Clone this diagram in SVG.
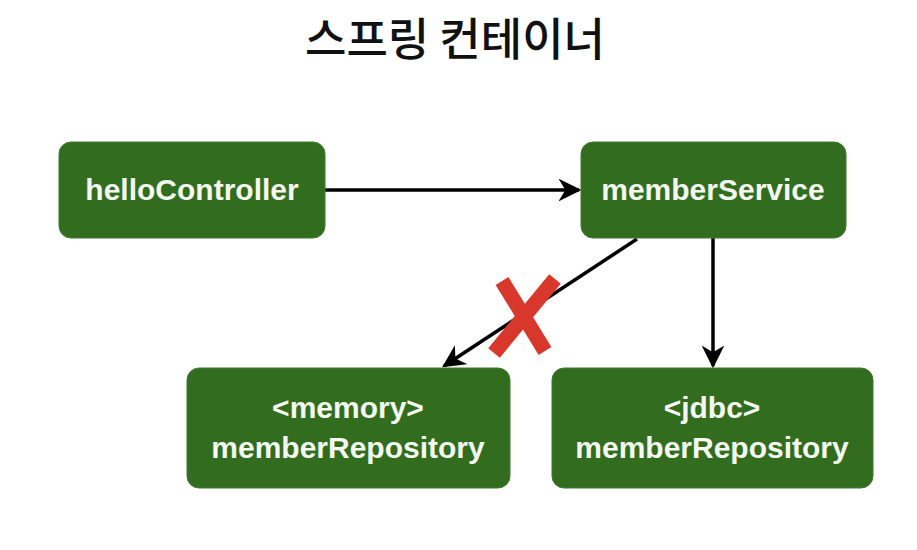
<svg xmlns="http://www.w3.org/2000/svg" width="917" height="550" viewBox="0 0 917 550">
<style>
.box{fill:#326c1f;stroke:#3f7d2a;stroke-width:1}
.lbl{font-family:"Liberation Sans",Arial,sans-serif;font-weight:bold;font-size:30px;fill:#f4f8f0;text-anchor:middle}
.title{font-family:"Noto Sans CJK KR","Noto Sans",sans-serif;font-size:45px;font-weight:500;fill:#111;text-anchor:middle}
.conn{stroke:#000;stroke-width:3.5;fill:none;marker-end:url(#ah)}
</style>
<defs>
<marker id="ah" viewBox="0 0 10 10" refX="9" refY="5" markerWidth="6.5" markerHeight="6.5" orient="auto" markerUnits="strokeWidth">
<path d="M0,0 L10,5 L0,10 L3,5 Z" fill="#000"/>
</marker>
</defs>
<rect width="917" height="550" fill="#fff"/>
<text class="title" x="455" y="56">스프링 컨테이너</text>
<g id="connectors">
<line class="conn" x1="325" y1="190" x2="579" y2="190"/>
<line class="conn" x1="637" y1="239" x2="444" y2="366"/>
<line class="conn" x1="713" y1="238" x2="713" y2="366"/>
</g>
<g id="x-mark" stroke="#d8382b" stroke-width="15" stroke-linecap="butt">
<line x1="502" y1="281" x2="545" y2="351"/>
<line x1="555" y1="279" x2="494" y2="353"/>
</g>
<g id="helloController">
<rect class="box" x="59" y="142" width="266" height="96" rx="12"/>
<text class="lbl" x="192" y="200">helloController</text>
</g>
<g id="memberService">
<rect class="box" x="581" y="142" width="265" height="96" rx="12"/>
<text class="lbl" x="713" y="200">memberService</text>
</g>
<g id="memoryRepository">
<rect class="box" x="187" y="368" width="323" height="120" rx="12"/>
<text class="lbl" x="348" y="418">&lt;memory&gt;</text>
<text class="lbl" x="348" y="458">memberRepository</text>
</g>
<g id="jdbcRepository">
<rect class="box" x="552" y="368" width="321" height="120" rx="12"/>
<text class="lbl" x="712" y="418">&lt;jdbc&gt;</text>
<text class="lbl" x="712" y="458">memberRepository</text>
</g>
</svg>
